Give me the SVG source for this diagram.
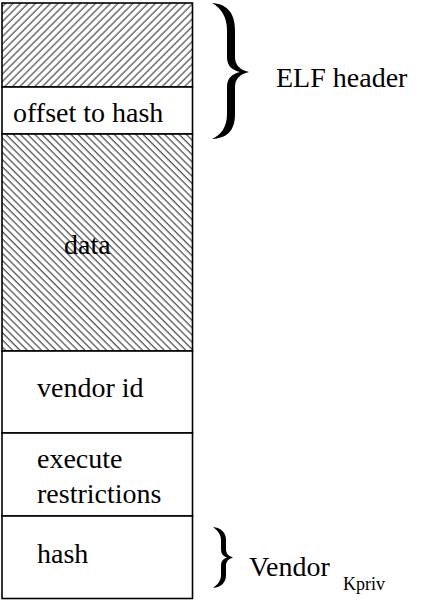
<svg xmlns="http://www.w3.org/2000/svg" width="421" height="601" viewBox="0 0 421 601">
<style>
.box{fill:#fff;stroke:#000;stroke-width:1.6}
.t{font-family:'Liberation Serif','Times New Roman','DejaVu Serif',serif;font-size:28px;fill:#000}
.sub{font-family:'Liberation Serif','Times New Roman','DejaVu Serif',serif;font-size:18px;fill:#000}
.brace{fill:#000;stroke:none}
</style>
<defs>
<pattern id="hatchF" patternUnits="userSpaceOnUse" width="5.3" height="5.3" patternTransform="rotate(45)">
<rect width="5.3" height="5.3" fill="#fff"/>
<line x1="1" y1="0" x2="1" y2="5.3" stroke="#222" stroke-width="1"/>
</pattern>
<pattern id="hatchB" patternUnits="userSpaceOnUse" width="5.1" height="5.1" patternTransform="rotate(-45)">
<rect width="5.1" height="5.1" fill="#fff"/>
<line x1="1" y1="0" x2="1" y2="5.1" stroke="#222" stroke-width="1"/>
</pattern>
</defs>
<rect x="0" y="0" width="421" height="601" fill="#fff"/>
<g id="elf-header-block">
<rect class="box" x="2" y="3" width="190.5" height="84" style="fill:url(#hatchF)"/>
</g>
<g id="offset-to-hash">
<rect class="box" x="2" y="87" width="190.5" height="47"/>
<text class="t" x="13" y="122">offset to hash</text>
</g>
<g id="data">
<rect class="box" x="2" y="134" width="190.5" height="217" style="fill:url(#hatchB)"/>
<text class="t" x="64" y="254">data</text>
</g>
<g id="vendor-id">
<rect class="box" x="2" y="351" width="190.5" height="82"/>
<text class="t" x="37" y="397">vendor id</text>
</g>
<g id="execute-restrictions">
<rect class="box" x="2" y="433" width="190.5" height="83"/>
<text class="t" x="37" y="468">execute</text>
<text class="t" x="37" y="503">restrictions</text>
</g>
<g id="hash">
<rect class="box" x="2" y="516" width="190.5" height="82.5"/>
<text class="t" x="37" y="563">hash</text>
</g>
<g id="connectors">
<path class="brace" d="M212,3 C226,4 235,12 235,30 L235,57 C235,65 240,70 249,72 C240,74 235,79 235,87 L235,114 C235,132 226,138 212,139 C221,135 227,127 227,114 L227,87 C227,78 232,74 240,72 C232,70 227,66 227,57 L227,30 C227,17 221,8 212,3 Z"/>
<path class="brace" d="M213,527 C221,528 226,532 226,540 L226,549 C226,553 228,556 233,557.5 C228,559 226,562 226,566 L226,575 C226,583 221,587 213,588 C217,585 221,581 221,575 L221,566 C221,561 223,559 227,557.5 C223,556 221,554 221,549 L221,540 C221,534 217,530 213,527 Z"/>
</g>
<g id="elf-header-label">
<text class="t" x="276" y="87">ELF header</text>
</g>
<g id="vendor-label">
<text class="t" x="249" y="576">Vendor</text>
<text class="sub" x="343" y="590">Kpriv</text>
</g>
</svg>
